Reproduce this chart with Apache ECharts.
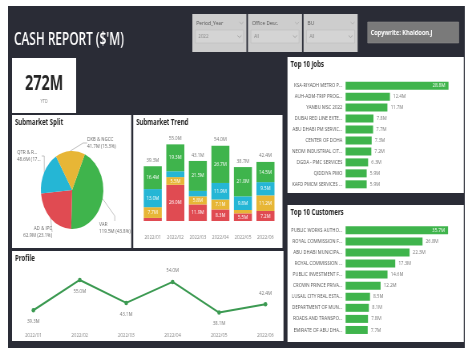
<!DOCTYPE html>
<html><head><meta charset="utf-8">
<script src="https://cdn.jsdelivr.net/npm/echarts@6/dist/echarts.min.js"></script>
<style>
html,body{margin:0;padding:0;background:#fff;overflow:hidden;width:474px;height:355px}
#c{width:592.5px;height:355px;transform:scaleX(0.8);transform-origin:0 0}
</style>
</head><body><div id="c"></div>
<script>
// ---- data ----
const months = ['2022/01','2022/02','2022/03','2022/04','2022/05','2022/06'];
const adVals  = [2.2, 26.0, 11.9, 8.3, 5.5, 7.2];
const dxbVals = [7.7, 5.5, 5.8, 7.1, 2.4, 11.2];
const qtrVals = [13.0, 4.2, 3.9, 11.9, 9.8, 9.5];
const varVals = [16.4, 19.3, 21.5, 26.7, 21.0, 14.5];
const profileVals = [39.3, 55.0, 43.1, 54.0, 38.1, 42.4];
const splitNames = ['VAR', 'AD & IPC', 'QTR & ROW', 'DXB & NGCC'];
const splitVals = [119.5, 62.9, 48.6, 41.7];
const jobNames = ['KSA-RIYADH METRO P...', 'AUH-ADM-TRIP PROG...', 'YANBU MSC 2022', 'DUBAI RED LINE EXTE...', 'ABU DHABI PM SERVIC...', 'CENTER OF DOHA', 'NEOM INDUSTRIAL CIT...', 'DGDA - PMC SERVICES', 'QIDDIYA PMO', 'KAFD PMCM SERVICES ...'];
const jobVals = [28.8, 12.4, 11.7, 7.8, 7.7, 7.3, 7.2, 6.3, 5.9, 5.9];
const custNames = ['PUBLIC WORKS AUTHO...', 'ROYAL COMMISSION F...', 'ABU DHABI MUNICIPA...', 'ROYAL COMMISSION ...', 'PUBLIC INVESTMENT F...', 'CROWN PRINCE PRIVA...', 'LUSAIL CITY REAL ESTA...', 'DEPARTMENT OF MUN...', 'ROADS AND TRANSPO...', 'EMIRATE OF ABU DHA...'];
const custVals = [35.7, 26.8, 22.3, 17.3, 14.6, 12.2, 8.5, 8.1, 7.8, 7.7];
const kpiValue = '272M';
const kpiLabel = 'YTD';
const slicers = [['Period_Year', '2022'], ['Office Desc.', 'All'], ['BU', 'All']];

// ---- styles ----
const SX = 0.8;                 // horizontal compression of the whole canvas
const X = v => v / SX;          // convert screen x to canvas x
const F = "'Open Sans',sans-serif";
const C = {green:'#3fb44c', red:'#e04b52', yellow:'#e7b636', cyan:'#25b6d5', line:'#3c9a52'};
const profileLabelPos = ['bottom','bottom','bottom','top','bottom','top'];
const pieLabelPlace = [
  {x:X(99), y:228, align:'left'},
  {x:X(52), y:232, align:'right'},
  {x:X(17), y:156, align:'left'},
  {x:X(87), y:143, align:'left'}
];
const fmt = v => (+v).toFixed(1) + 'M';

const chart = echarts.init(document.getElementById('c'), null, {renderer:'canvas', width:592.5, height:355});

const g = [];
g.push({type:'rect', shape:{x:X(8),y:6,width:X(456),height:342}, style:{fill:'#2a2c36'}});
g.push({type:'text', x:X(14), y:40, scaleX:0.82, style:{text:"CASH REPORT ($'M)", fontFamily:F, fontSize:18, fontWeight:600, fill:'#fff', verticalAlign:'middle'}});
// slicers
slicers.forEach((s, i) => {
  const x = 192 + i * 55.5;
  g.push({type:'rect', shape:{x:X(x), y:14, width:X(54), height:38}, style:{fill:'#cdcdcd'}});
  g.push({type:'text', x:X(x+4), y:23, style:{text:s[0], fontFamily:F, fontSize:6, fill:'#555', verticalAlign:'middle'}});
  g.push({type:'polyline', shape:{points:[[X(x+47),22],[X(x+49),24],[X(x+51),22]]}, style:{stroke:'#aaa', lineWidth:0.7, fill:null}});
  g.push({type:'rect', shape:{x:X(x+3), y:30, width:X(48), height:13}, style:{fill:'#d4d4d4', stroke:'#bcbcbc', lineWidth:0.6}});
  g.push({type:'text', x:X(x+6), y:36.5, style:{text:s[1], fontFamily:F, fontSize:5.5, fill:'#888', verticalAlign:'middle'}});
  g.push({type:'polyline', shape:{points:[[X(x+45),35.5],[X(x+47),37.5],[X(x+49),35.5]]}, style:{stroke:'#999', lineWidth:0.7, fill:null}});
});
g.push({type:'rect', shape:{x:X(367),y:22,width:X(91),height:21}, style:{fill:'#7a7a7a', stroke:'#8c8c8c', lineWidth:0.6}});
g.push({type:'text', x:X(370), y:32.5, style:{text:'Copywrite: Khaldoon.J', fontFamily:F, fontSize:7, fontWeight:'bold', fill:'#fff', verticalAlign:'middle'}});
// panels
const panels = [
  [12,58,64,55,null],
  [12,115,119,133,'Submarket Split'],
  [133,115,149,133,'Submarket Trend'],
  [12,251,271,90,'Profile'],
  [287,57,176,136,'Top 10 Jobs'],
  [287,205,176,137,'Top 10 Customers']
];
panels.forEach(p => {
  g.push({type:'rect', shape:{x:X(p[0]),y:p[1],width:X(p[2]),height:p[3]}, style:{fill:'#fff'}});
  if (p[4]) g.push({type:'text', x:X(p[0]+3), y:p[1]+8, scaleX:0.88, style:{text:p[4], fontFamily:F, fontSize:8.5, fontWeight:'bold', fill:'#252525', verticalAlign:'middle'}});
});
g.push({type:'text', x:X(44), y:84, scaleX:0.85, style:{text:kpiValue, fontFamily:F, fontSize:21, fontWeight:700, fill:'#252525', align:'center', verticalAlign:'middle'}});
g.push({type:'text', x:X(44), y:101.5, style:{text:kpiLabel, fontFamily:F, fontSize:5, fill:'#888', align:'center', verticalAlign:'middle'}});

const small = {fontFamily:F, fontSize:5.5};
const stackSeries = [
  ['AD & IPC', adVals, C.red],
  ['DXB & NGCC', dxbVals, C.yellow],
  ['QTR & ROW', qtrVals, C.cyan],
  ['VAR', varVals, C.green]
].map(s => ({
  type:'bar', name:s[0], stack:'t', xAxisIndex:0, yAxisIndex:0, data:s[1], barWidth:X(18),
  itemStyle:{color:s[2]},
  label:{show:true, position:'inside', color:'#fff', ...small, formatter:p => p.value >= 4.5 ? fmt(p.value) : ''}
}));
const totals = months.map((m, i) => adVals[i] + dxbVals[i] + qtrVals[i] + varVals[i]);
stackSeries.push({
  type:'bar', name:'total', stack:'t', xAxisIndex:0, yAxisIndex:0, data:months.map(() => 0), barWidth:X(18),
  label:{show:true, position:'top', distance:3, color:'#777', ...small, formatter:p => fmt(totals[p.dataIndex])}
});

const option = {
  animation:false,
  textStyle:{fontFamily:F},
  graphic:g,
  grid:[
    {left:X(141.25), top:137.4, width:X(135), height:83.6},
    {left:X(33.3), top:270.3, width:X(231.7), height:57.9},
    {left:X(345), top:80.2, width:X(107), height:109.6},
    {left:X(345), top:224.8, width:X(114.6), height:110.7}
  ],
  xAxis:[
    {gridIndex:0, type:'category', data:months, axisLine:{show:false}, axisTick:{show:false}, axisLabel:{color:'#888', ...small, margin:13, interval:0}},
    {gridIndex:1, type:'category', data:months, boundaryGap:false, axisLine:{show:false}, axisTick:{show:false}, axisLabel:{color:'#888', ...small, margin:4, interval:0}},
    {gridIndex:2, type:'value', min:0, max:30, show:false},
    {gridIndex:3, type:'value', min:0, max:40, show:false}
  ],
  yAxis:[
    {gridIndex:0, type:'value', min:0, max:60, show:false},
    {gridIndex:1, type:'value', min:30, max:60, show:false},
    {gridIndex:2, type:'category', data:jobNames, inverse:true, axisLine:{show:false}, axisTick:{show:false}, axisLabel:{color:'#555', ...small, margin:4, interval:0}},
    {gridIndex:3, type:'category', data:custNames, inverse:true, axisLine:{show:false}, axisTick:{show:false}, axisLabel:{color:'#555', ...small, margin:4, interval:0}}
  ],
  series:[
    {
      type:'pie', center:[X(72),190], radius:39, startAngle:66, clockwise:true,
      data:splitNames.map((n, i) => ({name:n, value:splitVals[i]})),
      color:[C.green, C.red, C.cyan, C.yellow],
      label:{color:'#666', ...small, lineHeight:7, formatter:p => {
        const pct = p.percent.toFixed(1);
        const txt = p.name === 'QTR & ROW' ? pct.slice(0,2) + '...' : pct + '%';
        return p.name + '\n' + fmt(p.value) + ' (' + txt + ')';
      }},
      labelLayout:p => ({...pieLabelPlace[p.dataIndex], verticalAlign:'middle'}),
      labelLine:{show:true, length:5, length2:5, lineStyle:{color:'#999', width:0.6}}
    },
    ...stackSeries,
    {
      type:'line', xAxisIndex:1, yAxisIndex:1,
      data:profileVals.map((v, i) => ({value:v, label:{position:profileLabelPos[i]}})),
      lineStyle:{color:C.line, width:2}, itemStyle:{color:C.line}, symbol:'circle', symbolSize:4.5,
      label:{show:true, color:'#777', ...small, distance:6, formatter:p => fmt(p.value)}
    },
    {
      type:'bar', xAxisIndex:2, yAxisIndex:2, barWidth:8,
      data:jobVals.map((v, i) => i === 0 ? {value:v, label:{position:'insideRight', color:'#fff'}} : v),
      itemStyle:{color:C.green},
      label:{show:true, position:'right', distance:4, color:'#777', ...small, formatter:p => fmt(p.value)}
    },
    {
      type:'bar', xAxisIndex:3, yAxisIndex:3, barWidth:8,
      data:custVals.map((v, i) => i === 0 ? {value:v, label:{position:'insideRight', color:'#fff'}} : v),
      itemStyle:{color:C.green},
      label:{show:true, position:'right', distance:4, color:'#777', ...small, formatter:p => fmt(p.value)}
    }
  ]
};
chart.setOption(option);
</script></body></html>
